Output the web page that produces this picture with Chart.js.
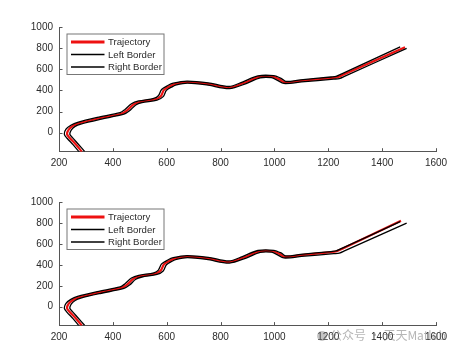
<!DOCTYPE html>
<html lang="en">
<head>
    <meta charset="UTF-8">
    <title>Trajectory</title>
    <script src="https://cdn.jsdelivr.net/npm/chart.js"></script>
    <style>
        body { margin: 0; background: #fff; width: 474px; height: 353px; overflow: hidden; position: relative; }
        canvas { position: absolute; left: 0; }
        #c1 { top: 0; }
        #c2 { top: 175px; }
        #wm { position: absolute; left: 317px; top: 326px; font: 12px "Noto Sans CJK SC", sans-serif; color: rgba(110,110,110,0.5); white-space: nowrap; }
        #wm span { display: inline-block; width: 10px; height: 10px; border-radius: 5px; background: rgba(110,110,110,0.4); margin-right: 3px; vertical-align: -1px; }
    </style>
</head>
<body>
    <canvas id="c1" width="474" height="175"></canvas>
    <canvas id="c2" width="474" height="178"></canvas>
    <div id="wm"><span></span>公众号 · 天天Matlab</div>

    <script>
        // tick labels
        const xTicks = [200, 400, 600, 800, 1000, 1200, 1400, 1600];
        const yTicks = [0, 200, 400, 600, 800, 1000];
        const seriesNames = ['Trajectory', 'Left Border', 'Right Border'];

        // trajectory (upper plot), [x, y]
        const traj1 = [
            [285, -180], [262, -110], [240, -50], [230, -15], [236, 30], [252, 65], [275, 90],
            [347, 135], [434, 182], [453, 212], [477, 268], [502, 292], [558, 316], [578, 345],
            [590, 405], [612, 440], [630, 460], [676, 478], [751, 462], [832, 427], [888, 472],
            [943, 528], [993, 530], [1018, 505], [1039, 476], [1099, 490], [1215, 518], [1234, 524],
            [1255, 548], [1485, 808]
        ];
        // trajectory (lower plot)
        const traj2 = [
            [285, -180], [262, -110], [240, -50], [230, -15], [236, 30], [252, 65], [275, 90],
            [347, 135], [434, 182], [453, 212], [477, 268], [502, 292], [558, 316], [578, 345],
            [590, 405], [612, 440], [630, 460], [676, 478], [751, 462], [832, 427], [888, 472],
            [943, 528], [993, 530], [1018, 505], [1039, 476], [1099, 492], [1212, 522], [1231, 530],
            [1252, 554], [1470, 820]
        ];
        const leftBorder = [
            [275, -183], [252, -113], [230, -53], [220, -16], [226, 33], [244, 70], [269, 98],
            [342, 144], [427, 189], [444, 217], [469, 274], [496, 300], [552, 324], [569, 349],
            [581, 409], [604, 446], [624, 468], [675, 488], [754, 472], [831, 437], [881, 479],
            [939, 537], [997, 539], [1026, 512], [1042, 485], [1097, 500], [1210, 527], [1229, 533],
            [1250, 557], [1467, 812]
        ];
        const rightBorder = [
            [295, -177], [271, -107], [250, -47], [240, -14], [246, 27], [260, 60], [281, 82],
            [352, 126], [441, 175], [462, 207], [485, 262], [508, 284], [564, 308], [587, 341],
            [599, 401], [620, 434], [636, 452], [677, 468], [748, 452], [833, 417], [895, 465],
            [947, 519], [989, 521], [1010, 498], [1035, 466], [1101, 480], [1220, 507], [1241, 512],
            [1262, 535], [1491, 798]
        ];

        const axisColor = '#555555';
        const textColor = '#2b2b2b';
        const font = { family: '"Liberation Sans", Arial, sans-serif', size: 10 };

        const toPts = arr => arr.map(p => ({ x: p[0], y: p[1] }));

        // MATLAB style inward tick marks
        const innerTicks = {
            id: 'innerTicks',
            afterDraw(chart) {
                const ctx = chart.ctx, a = chart.chartArea;
                const xs = chart.scales.x, ys = chart.scales.y;
                ctx.save();
                ctx.strokeStyle = axisColor;
                ctx.lineWidth = 1;
                ctx.beginPath();
                xTicks.forEach(v => {
                    const px = Math.round(xs.getPixelForValue(v)) + 0.5;
                    ctx.moveTo(px, a.bottom);
                    ctx.lineTo(px, a.bottom - 3.5);
                });
                yTicks.forEach(v => {
                    const py = Math.round(ys.getPixelForValue(v)) + 0.5;
                    ctx.moveTo(a.left, py);
                    ctx.lineTo(a.left + 3.5, py);
                });
                ctx.stroke();
                ctx.restore();
            }
        };

        // legend box in the upper left corner
        const boxLegend = {
            id: 'boxLegend',
            afterDraw(chart) {
                const ctx = chart.ctx, a = chart.chartArea;
                const x0 = a.left + 7.5, y0 = a.top + 6.5;
                ctx.save();
                ctx.fillStyle = '#fff';
                ctx.fillRect(x0, y0, 97.5, 41);
                ctx.strokeStyle = '#777';
                ctx.lineWidth = 1;
                ctx.strokeRect(x0 + 0.5, y0 + 0.5, 97, 40.5);
                ctx.font = '9.6px "Liberation Sans", Arial, sans-serif';
                ctx.textBaseline = 'middle';
                chart.data.datasets.forEach((ds, i) => {
                    const y = y0 + 8.5 + i * 12.5;
                    ctx.strokeStyle = ds.borderColor;
                    ctx.lineWidth = i === 0 ? 3 : 1.5;
                    ctx.beginPath();
                    ctx.moveTo(x0 + 4.5, y);
                    ctx.lineTo(x0 + 38, y);
                    ctx.stroke();
                    ctx.fillStyle = textColor;
                    ctx.fillText(ds.label, x0 + 41.5, y + 0.5);
                });
                ctx.restore();
            }
        };

        function makeChart(id, traj, xHeight) {
            return new Chart(document.getElementById(id), {
                type: 'scatter',
                data: {
                    datasets: [
                        { label: seriesNames[0], data: toPts(traj), borderColor: '#ee1111', borderWidth: 2.2, order: 2 },
                        { label: seriesNames[1], data: toPts(leftBorder), borderColor: '#000000', borderWidth: 1.3, order: 1 },
                        { label: seriesNames[2], data: toPts(rightBorder), borderColor: '#000000', borderWidth: 1.3, order: 0 }
                    ].map(d => Object.assign(d, { showLine: true, pointRadius: 0, tension: 0.3, fill: false }))
                },
                options: {
                    responsive: false,
                    devicePixelRatio: 1,
                    animation: false,
                    layout: { padding: { left: 0, right: 38, top: 27, bottom: 0 } },
                    plugins: { legend: { display: false }, tooltip: { enabled: false } },
                    scales: {
                        x: {
                            type: 'linear', min: 200, max: 1600,
                            afterBuildTicks: s => { s.ticks = xTicks.map(v => ({ value: v })); },
                            afterFit: s => { s.height = xHeight; },
                            grid: { display: false, drawTicks: false },
                            border: { display: true, color: axisColor, width: 1 },
                            ticks: { color: textColor, font: font, padding: 6, maxRotation: 0, callback: v => String(v) }
                        },
                        y: {
                            type: 'linear', min: -180, max: 1000,
                            afterBuildTicks: s => { s.ticks = yTicks.map(v => ({ value: v })); },
                            afterFit: s => { s.width = 59; },
                            grid: { display: false, drawTicks: false },
                            border: { display: true, color: axisColor, width: 1 },
                            ticks: { color: textColor, font: font, padding: 6, callback: v => String(v) }
                        }
                    }
                },
                plugins: [innerTicks, boxLegend]
            });
        }

        makeChart('c1', traj1, 23.3);
        makeChart('c2', traj2, 27.4);
    </script>
</body>
</html>
